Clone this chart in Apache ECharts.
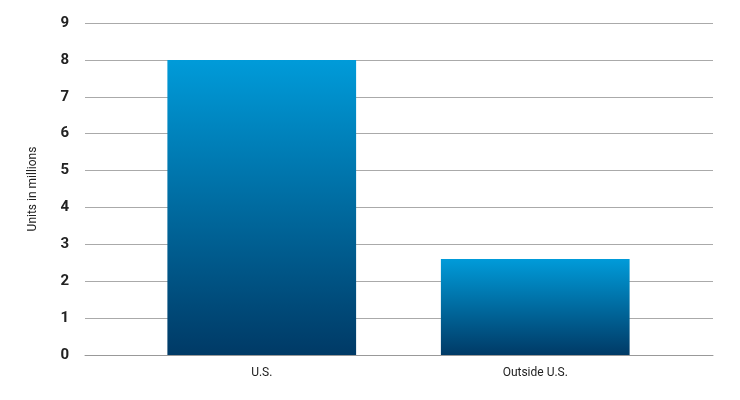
<!DOCTYPE html>
<html>
<head>
<meta charset="utf-8">
<script src="https://cdn.jsdelivr.net/npm/echarts@6/dist/echarts.min.js"></script>
<style>html,body{margin:0;padding:0;background:#fff}#chart{width:740px;height:400px}</style>
</head>
<body>
<div id="chart"></div>
<script>
var categories = ['U.S.', 'Outside U.S.'];
var units = [8, 2.6];

var chart = echarts.init(document.getElementById('chart'));
chart.setOption({
	animation: false,
	grid: [
		{ left: 85, right: 27, top: 23, bottom: 45 },
		{ left: 125, right: 68, top: 23, bottom: 45 }
	],
	xAxis: [{
		type: 'category',
		gridIndex: 0,
		data: [''],
		axisLine: { lineStyle: { color: '#999' } },
		axisTick: { show: false },
		axisLabel: { show: false }
	}, {
		type: 'category',
		gridIndex: 1,
		data: categories,
		axisLine: { show: false },
		axisTick: { show: false },
		axisLabel: { color: '#222', fontFamily: 'Roboto', fontSize: 12, margin: 12 }
	}],
	yAxis: [{
		type: 'value',
		gridIndex: 0,
		min: 0, max: 9, interval: 1,
		name: 'Units in millions',
		nameLocation: 'middle',
		nameGap: 46,
		nameTextStyle: { color: '#222', fontFamily: 'Roboto', fontSize: 12 },
		axisLabel: { color: '#222', fontFamily: 'Roboto', fontSize: 15, fontWeight: 'bold', margin: 16 },
		splitLine: { lineStyle: { color: '#aaa' } }
	}, {
		type: 'value',
		gridIndex: 1,
		min: 0, max: 9, interval: 1,
		axisLabel: { show: false },
		splitLine: { show: false }
	}],
	series: [{
		type: 'bar',
		xAxisIndex: 1,
		yAxisIndex: 1,
		data: units,
		barWidth: '69%',
		itemStyle: {
			color: new echarts.graphic.LinearGradient(0, 0, 0, 1, [
				{ offset: 0, color: '#009bd9' },
				{ offset: 1, color: '#003a66' }
			])
		}
	}]
});
</script>
</body>
</html>
